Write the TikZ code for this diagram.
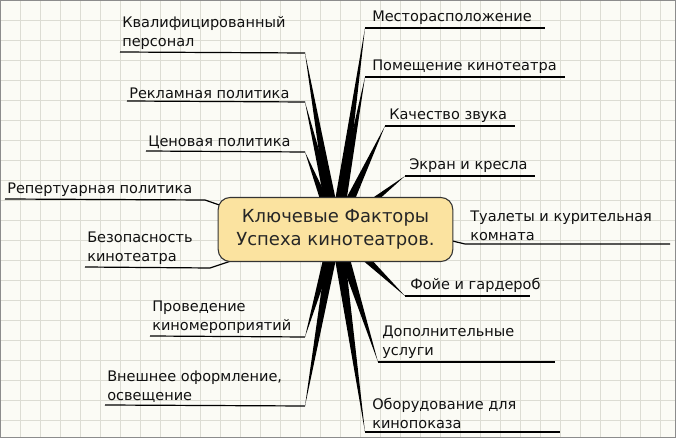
\documentclass[tikz,border=0pt]{standalone}
\usepackage{fontspec}
\setmainfont{DejaVu Sans}
\usetikzlibrary{calc}
\definecolor{bgc}{HTML}{FBFBF5}
\definecolor{gridc}{HTML}{DCDCD3}
\definecolor{boxc}{HTML}{FBE3A0}
\definecolor{txt}{HTML}{111111}
\tikzset{
  lbl/.style={anchor=south west,inner sep=1.5pt,align=left,font=\fontsize{10.9}{14.5}\selectfont,text=txt},
  uline/.style={draw=black,line width=0.9pt},
  central/.style={draw=black!80,line width=0.8pt,fill=boxc,rounded corners=9pt,minimum width=176pt,minimum height=48pt,align=center,font=\fontsize{13.5}{17}\selectfont,text=black!85},
}
\newcommand{\wedgeto}[1]{\fill[black] ($(c)!4.5pt!90:(#1)$) -- (#1) -- ($(c)!4.5pt!-90:(#1)$) -- cycle;}
\begin{document}
\begin{tikzpicture}[x=0.75pt,y=-0.75pt]
\useasboundingbox (0,0) rectangle (676,438);
\fill[bgc] (0,0) rectangle (676,438);
\draw[gridc,line width=0.6pt,step=15pt] (0,0) grid (676,438);
\draw[black!45,line width=1pt] (0.5,0.5) rectangle (675.5,437.5);
\coordinate (c) at (336,230);
% left labels
\node[lbl] (l1) at (120,52) {Квалифицированный\\персонал};
\node[lbl] (l2) at (127,101) {Рекламная политика};
\node[lbl] (l3) at (146,151) {Ценовая политика};
\node[lbl] (l4) at (5,199) {Репертуарная политика};
\node[lbl] (l5) at (85,267) {Безопасность\\кинотеатра};
\node[lbl] (l6) at (150,336) {Проведение\\киномероприятий};
\node[lbl] (l7) at (105,405) {Внешнее оформление,\\освещение};
% right labels
\node[lbl] (r1) at (370,27) {Месторасположение};
\node[lbl] (r2) at (370,76) {Помещение кинотеатра};
\node[lbl] (r3) at (387,125) {Качество звука};
\node[lbl] (r4) at (407,175) {Экран и кресла};
\node[lbl] (r5) at (468,243) {Туалеты и курительная\\комната};
\node[lbl] (r6) at (408,295) {Фойе и гардероб};
\node[lbl] (r7) at (380,361) {Дополнительные\\услуги};
\node[lbl] (r8) at (370,431) {Оборудование для\\кинопоказа};
% end coordinates
\coordinate (e1) at (305,53); \coordinate (e2) at (305,102); \coordinate (e3) at (305,152);
\coordinate (e6) at (305,337); \coordinate (e7) at (305,406);
\coordinate (f1) at (365,28); \coordinate (f2) at (365,77); \coordinate (f3) at (385,126);
\coordinate (f4) at (405,176); \coordinate (f6) at (405,296); \coordinate (f7) at (378,362);
\coordinate (f8) at (365,432);
\foreach \e in {e1,e2,e3,e6,e7,f1,f2,f3,f4,f6,f7,f8} {\wedgeto{\e}}
\draw[uline] (l1.south west) -- (e1);
\draw[uline] (l2.south west) -- (e2);
\draw[uline] (l3.south west) -- (e3);
\draw[uline] (l6.south west) -- (e6);
\draw[uline] (l7.south west) -- (e7);
\draw[uline] (f1) -- (545,28);
\draw[uline] (f2) -- (565,77);
\draw[uline] (f3) -- (515,126);
\draw[uline] (f4) -- (535,176);
\draw[uline] (f6) -- (530,296);
\draw[uline] (f7) -- (555,362);
\draw[uline] (f8) -- (560,432);
\coordinate (e4) at (205,200); \coordinate (e5) at (210,268); \coordinate (f5) at (465,244);
\draw[uline] (l4.south west) -- (e4) -- (228,208);
\draw[uline] (l5.south west) -- (e5) -- (240,258);
\draw[uline] (440,238) -- (f5) -- (670,244);
\node[central] (main) at (335.5,229.5) {Ключевые Факторы\\Успеха кинотеатров.};
\end{tikzpicture}
\end{document}
